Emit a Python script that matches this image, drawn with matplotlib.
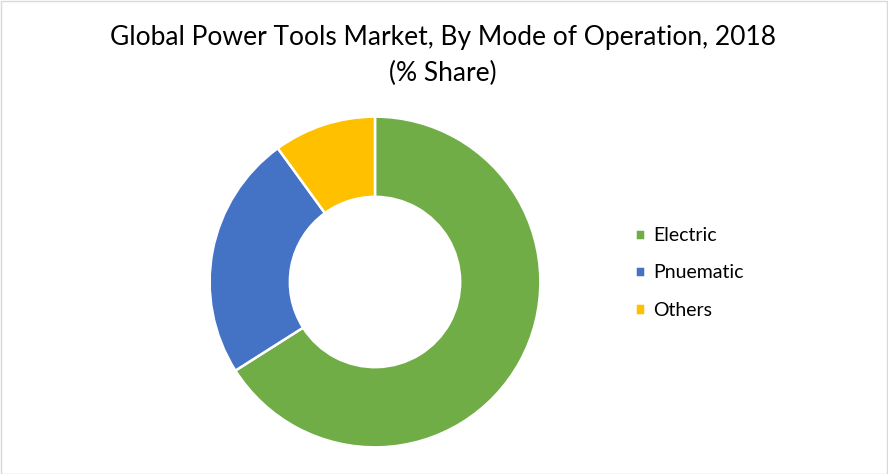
import matplotlib
matplotlib.use("Agg")
import matplotlib.pyplot as plt
from matplotlib.patches import Rectangle

labels = ["Electric", "Pnuematic", "Others"]
shares = [66.0, 24.0, 10.0]
colors = ["#70AD47", "#4472C4", "#FFC000"]

plt.rcParams['font.family'] = ['Lato', 'DejaVu Sans']

W, H = 888, 474
fig = plt.figure(figsize=(W / 100, H / 100), dpi=100)

# donut centred at (375, 282) px, outer radius 167 px
cx, cy, r = 375, 282, 167
ax = fig.add_axes([(cx - r) / W, (H - cy - r) / H, 2 * r / W, 2 * r / H])
wedges, _ = ax.pie(shares, colors=colors, startangle=90, counterclock=False,
                   radius=1.0, wedgeprops=dict(width=0.485, edgecolor='white', linewidth=1.8))
ax.set_xlim(-1.01, 1.01)
ax.set_ylim(-1.01, 1.01)
ax.set_aspect('equal')
ax.axis('off')

fig.text(443 / W, 1 - 38 / H, "Global Power Tools Market, By Mode of Operation, 2018",
         ha='center', va='center', fontsize=19, color='#000000')
fig.text(443 / W, 1 - 73 / H, "(% Share)",
         ha='center', va='center', fontsize=19, color='#000000')

fig.legend(wedges, labels, loc='center left', bbox_to_anchor=(627 / W, 1 - 273 / H),
           frameon=False, fontsize=14, handlelength=0.5, handleheight=0.5,
           handletextpad=0.45, labelspacing=1.05, borderaxespad=0)

fig.patches.append(Rectangle((0.5 / W, 0.5 / H), 1 - 1.5 / W, 1 - 1.5 / H, transform=fig.transFigure,
                             fill=False, edgecolor='#D9D9D9', linewidth=1))

fig.savefig("out.png", dpi=100)
